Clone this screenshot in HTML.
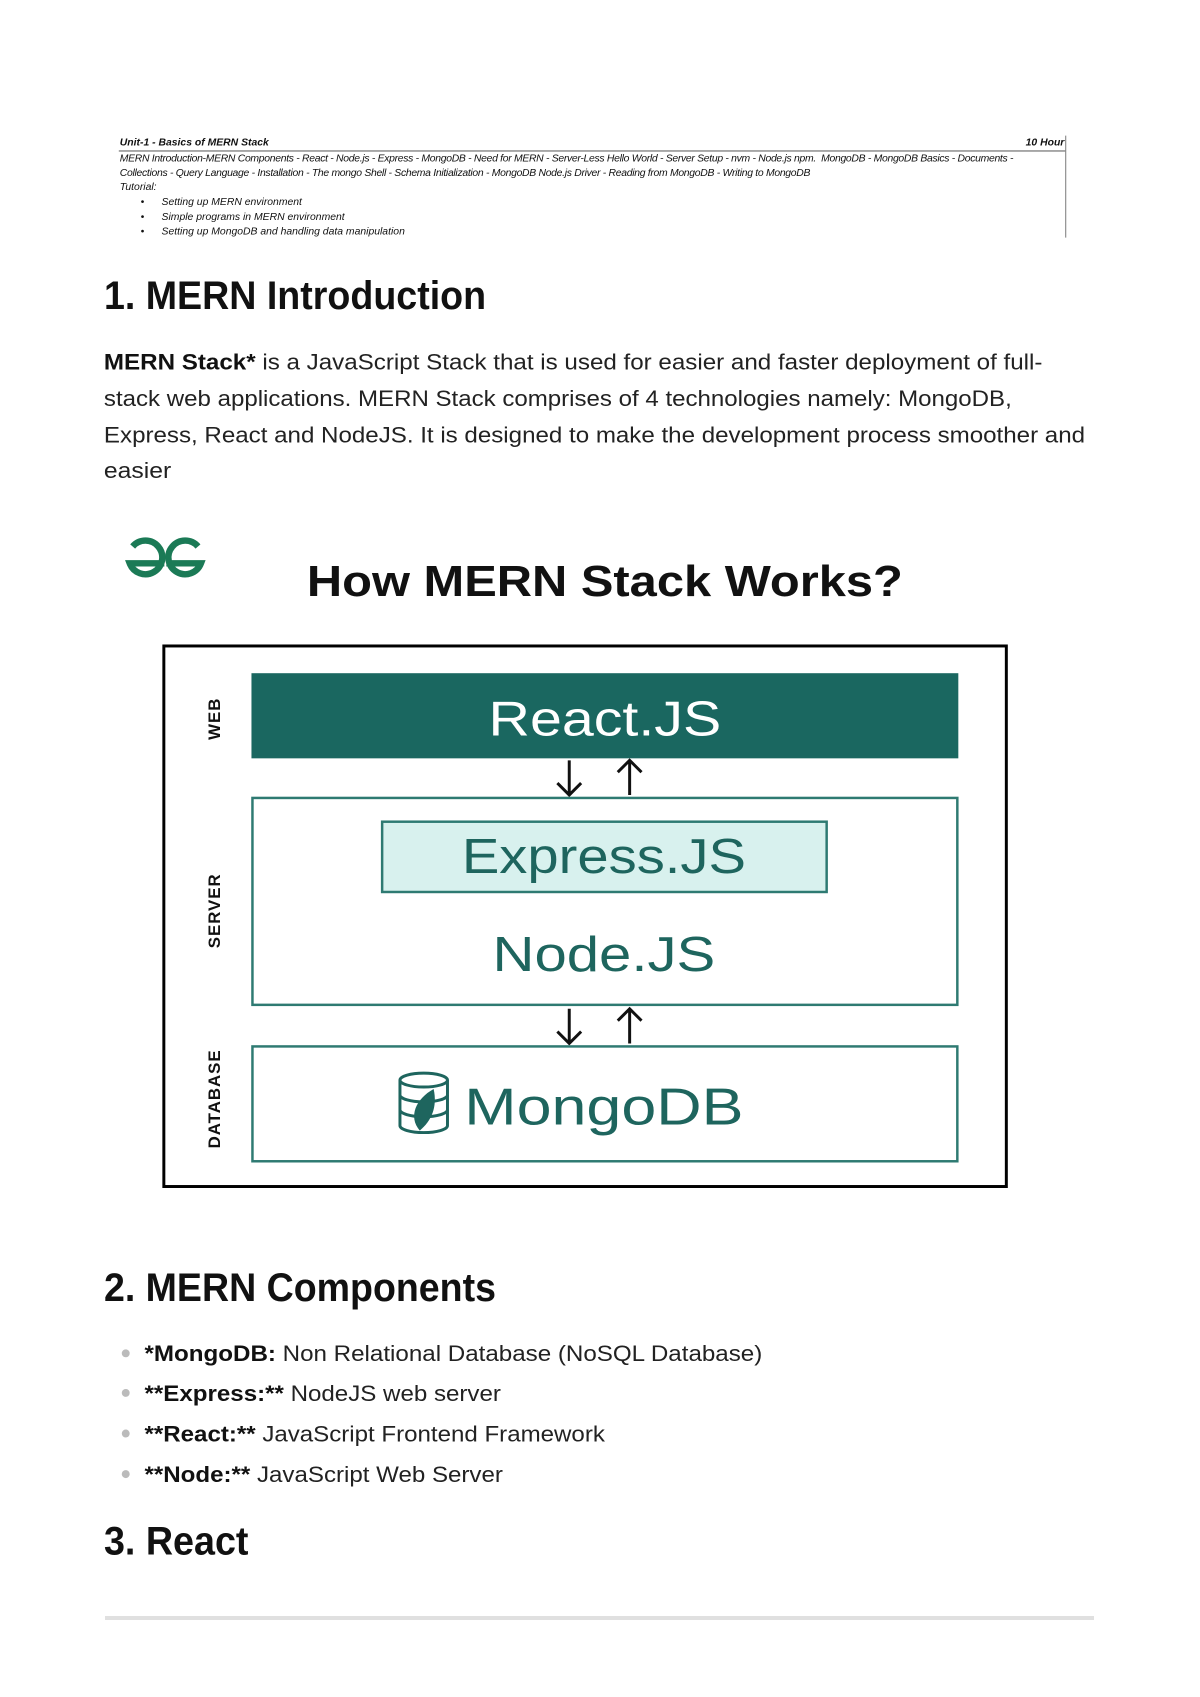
<!DOCTYPE html>
<html><head><meta charset="utf-8"><style>
html,body{margin:0;padding:0;background:#fff;}
body{width:1200px;height:1697px;position:relative;overflow:hidden;font-family:"Liberation Sans",sans-serif;color:#1a1a1a;}
.a{position:absolute;white-space:nowrap;}
.hdr{font-size:10.5px;font-style:italic;color:#111;}
#wrap{position:absolute;left:0;top:0;width:1200px;height:1697px;transform:scale(0.99);transform-origin:0 0;}
</style></head><body>
<div id="wrap">
<div class="a hdr" style="left:121px;top:138px;font-weight:bold;">Unit-1 - Basics of MERN Stack</div>
<div class="a hdr" style="left:1036px;top:138px;font-weight:bold;">10 Hour</div>
<div class="a" style="left:120px;top:152px;width:956px;border-top:1px solid #555;"></div>
<div class="a" style="left:1076px;top:137px;height:103px;border-left:1px solid #777;"></div>
<div class="a hdr" style="left:121px;top:154px;letter-spacing:-0.3px;">MERN Introduction-MERN Components - React - Node.js - Express - MongoDB - Need for MERN - Server-Less Hello World - Server Setup - nvm - Node.js npm.&nbsp; MongoDB - MongoDB Basics - Documents -</div>
<div class="a hdr" style="left:121px;top:169px;letter-spacing:-0.3px;">Collections - Query Language - Installation - The mongo Shell - Schema Initialization - MongoDB Node.js Driver - Reading from MongoDB - Writing to MongoDB</div>
<div class="a hdr" style="left:121px;top:183px;">Tutorial:</div>
<div class="a hdr" style="left:142px;top:198px;">•&nbsp;&nbsp;&nbsp;&nbsp;&nbsp;&nbsp;Setting up MERN environment</div>
<div class="a hdr" style="left:142px;top:213px;">•&nbsp;&nbsp;&nbsp;&nbsp;&nbsp;&nbsp;Simple programs in MERN environment</div>
<div class="a hdr" style="left:142px;top:228px;">•&nbsp;&nbsp;&nbsp;&nbsp;&nbsp;&nbsp;Setting up MongoDB and handling data manipulation</div>

<svg class="a" style="left:0;top:0" width="1200" height="1697" xmlns="http://www.w3.org/2000/svg" font-family="Liberation Sans, sans-serif">
 <text x="105" y="312" font-size="40" font-weight="bold" fill="#111" textLength="386" lengthAdjust="spacingAndGlyphs">1. MERN Introduction</text>
 <g font-size="22" fill="#222">
  <text x="105" y="373" textLength="948" lengthAdjust="spacingAndGlyphs"><tspan font-weight="bold" fill="#111">MERN Stack*</tspan> is a JavaScript Stack that is used for easier and faster deployment of full-</text>
  <text x="105" y="410" textLength="917" lengthAdjust="spacingAndGlyphs">stack web applications. MERN Stack comprises of 4 technologies namely: MongoDB,</text>
  <text x="105" y="447" textLength="991" lengthAdjust="spacingAndGlyphs">Express, React and NodeJS. It is designed to make the development process smoother and</text>
  <text x="105" y="483" textLength="68" lengthAdjust="spacingAndGlyphs">easier</text>
 </g>

 <!-- logo -->
 <g fill="none" stroke="#1b7a56" stroke-width="6.5" transform="translate(0 6)">
  <path d="M134 546 A17 17 0 1 1 131 563 H166"/>
  <path d="M200 546 A17 17 0 1 0 203 563 H168"/>
 </g>
 <text x="310" y="602" font-size="44" font-weight="bold" fill="#111" textLength="602" lengthAdjust="spacingAndGlyphs">How MERN Stack Works?</text>

 <rect x="165.5" y="652.5" width="851" height="546" fill="#fff" stroke="#000" stroke-width="3"/>
 <rect x="254" y="680" width="714" height="86" fill="#1a6760"/>
 <text x="611" y="743" text-anchor="middle" font-size="50" fill="#fff" textLength="235" lengthAdjust="spacingAndGlyphs">React.JS</text>

 <g stroke="#111" stroke-width="3" fill="none">
  <path d="M575 768 V803 M563 791 L575 803 L587 791"/>
  <path d="M636 803 V768 M624 780 L636 768 L648 780"/>
  <path d="M575 1019 V1054 M563 1042 L575 1054 L587 1042"/>
  <path d="M636 1054 V1019 M624 1031 L636 1019 L648 1031"/>
 </g>

 <rect x="255" y="806" width="712" height="209" fill="#fff" stroke="#2e7a72" stroke-width="2.5"/>
 <rect x="386" y="830" width="449" height="71" fill="#d8f1ee" stroke="#2e7a72" stroke-width="2.5"/>
 <text x="610" y="882" text-anchor="middle" font-size="50" fill="#1e655e" textLength="287" lengthAdjust="spacingAndGlyphs">Express.JS</text>
 <text x="610" y="981" text-anchor="middle" font-size="50" fill="#1e655e" textLength="225" lengthAdjust="spacingAndGlyphs">Node.JS</text>

 <rect x="255" y="1057" width="712" height="116" fill="#fff" stroke="#2e7a72" stroke-width="2.5"/>
 <g stroke="#1e655e" stroke-width="3" fill="none">
  <ellipse cx="428" cy="1091" rx="24" ry="7"/>
  <path d="M404 1091 V1137 A24 7 0 0 0 452 1137 V1091"/>
  <path d="M404 1106 A24 7 0 0 0 452 1106 M404 1121 A24 7 0 0 0 452 1121"/>
 </g>
 <path d="M424 1142 C412 1128 420 1110 438 1100 C442 1118 436 1132 424 1142 Z" fill="#1e655e"/>
 <text x="610" y="1136" text-anchor="middle" font-size="52" fill="#1e655e" textLength="282" lengthAdjust="spacingAndGlyphs">MongoDB</text>

 <g font-size="17" fill="#111" font-weight="bold" letter-spacing="1">
  <text transform="translate(222 726) rotate(-90)" text-anchor="middle">WEB</text>
  <text transform="translate(222 920) rotate(-90)" text-anchor="middle">SERVER</text>
  <text transform="translate(222 1110) rotate(-90)" text-anchor="middle">DATABASE</text>
 </g>

 <text x="105" y="1314" font-size="40" font-weight="bold" fill="#111" textLength="396" lengthAdjust="spacingAndGlyphs">2. MERN Components</text>
 <g fill="#bbb"><circle cx="127" cy="1367" r="4"/><circle cx="127" cy="1407" r="4"/><circle cx="127" cy="1448" r="4"/><circle cx="127" cy="1489" r="4"/></g>
 <g font-size="22" fill="#222">
  <text x="146" y="1375" textLength="624" lengthAdjust="spacingAndGlyphs"><tspan font-weight="bold" fill="#111">*MongoDB:</tspan> Non Relational Database (NoSQL Database)</text>
  <text x="146" y="1415" textLength="360" lengthAdjust="spacingAndGlyphs"><tspan font-weight="bold" fill="#111">**Express:**</tspan> NodeJS web server</text>
  <text x="146" y="1456" textLength="465" lengthAdjust="spacingAndGlyphs"><tspan font-weight="bold" fill="#111">**React:**</tspan> JavaScript Frontend Framework</text>
  <text x="146" y="1497" textLength="362" lengthAdjust="spacingAndGlyphs"><tspan font-weight="bold" fill="#111">**Node:**</tspan> JavaScript Web Server</text>
 </g>
 <text x="105" y="1570" font-size="40" font-weight="bold" fill="#111" textLength="146" lengthAdjust="spacingAndGlyphs">3. React</text>
</svg>
</div>
<div class="a" style="left:105px;top:1616px;width:989px;height:4px;background:#e0e0e0;"></div>
</body></html>
